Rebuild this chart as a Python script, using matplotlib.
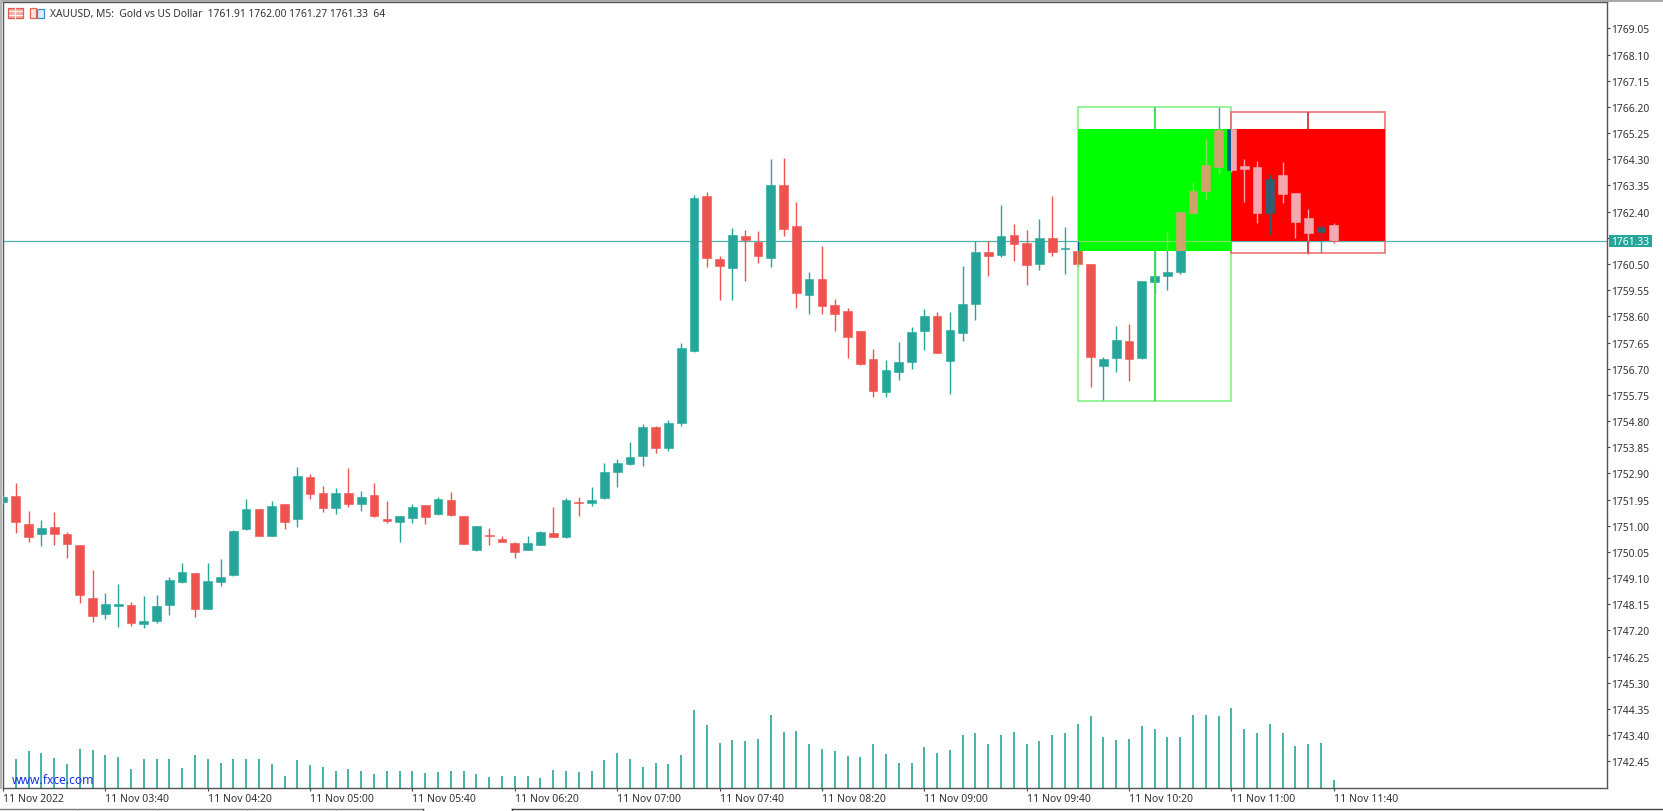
#!/usr/bin/env python3
"""XAUUSD M5 chart with supply/demand boxes, MetaTrader look."""

import matplotlib
matplotlib.use('Agg')

import numpy as np
import matplotlib.pyplot as plt
from matplotlib.patches import Rectangle

W, H = 1663, 812

plt.rcParams["font.family"] = ["Noto Sans", "DejaVu Sans"]

# one row per 5 minute bar, first bar 03:00
opens = [1751.85, 1752.09, 1751.05, 1750.71, 1750.94, 1750.70, 1750.29, 1748.38, 1747.78, 1748.07,
         1748.12, 1747.44, 1747.55, 1748.13, 1748.94, 1749.27, 1747.99, 1748.97, 1749.21, 1750.88,
         1751.61, 1750.63, 1751.78, 1751.24, 1752.76, 1752.18, 1751.64, 1752.18, 1751.79, 1752.11,
         1751.26, 1751.15, 1751.29, 1751.75, 1751.41, 1751.92, 1751.34, 1750.13, 1750.67, 1750.52,
         1750.39, 1750.13, 1750.31, 1750.72, 1750.58, 1751.86, 1751.81, 1752.02, 1752.96, 1753.23,
         1753.53, 1754.58, 1753.82, 1754.73, 1757.33, 1762.96, 1760.68, 1760.36, 1761.51, 1761.31,
         1760.71, 1763.36, 1761.88, 1759.38, 1759.96, 1759.00, 1758.80, 1758.05, 1757.04, 1755.86,
         1756.58, 1756.93, 1758.08, 1758.60, 1756.99, 1758.01, 1759.03, 1760.93, 1760.84, 1761.56,
         1761.27, 1760.50, 1761.45, 1761.06, 1760.98, 1760.49, 1756.81, 1757.10, 1757.70, 1757.10,
         1759.86, 1760.06, 1760.20, 1762.35, 1763.15, 1764.02, 1765.40, 1764.06, 1764.02, 1762.35,
         1763.72, 1763.06, 1762.17, 1761.67, 1761.91]
highs = [1752.10, 1752.54, 1751.52, 1751.22, 1751.49, 1750.78, 1750.29, 1749.39, 1748.56, 1748.87,
         1748.22, 1748.46, 1748.50, 1749.15, 1749.65, 1749.27, 1749.63, 1749.79, 1750.84, 1751.97,
         1751.62, 1751.90, 1751.79, 1753.14, 1752.88, 1752.43, 1752.38, 1753.08, 1752.26, 1752.55,
         1751.90, 1751.37, 1751.80, 1751.75, 1752.03, 1752.21, 1751.34, 1750.99, 1750.90, 1750.64,
         1750.42, 1750.62, 1750.79, 1751.69, 1752.00, 1752.03, 1752.41, 1753.26, 1753.41, 1754.04,
         1754.69, 1754.63, 1754.85, 1757.62, 1763.01, 1763.13, 1760.78, 1761.80, 1761.74, 1761.69,
         1764.31, 1764.35, 1762.74, 1760.22, 1761.14, 1759.23, 1758.89, 1758.06, 1757.41, 1757.01,
         1757.67, 1758.22, 1758.85, 1758.74, 1758.75, 1760.43, 1761.35, 1761.35, 1762.63, 1761.94,
         1761.75, 1762.12, 1762.96, 1761.85, 1761.35, 1760.50, 1757.11, 1758.26, 1758.32, 1759.89,
         1760.95, 1761.65, 1762.40, 1763.46, 1765.04, 1766.19, 1765.40, 1764.31, 1764.23, 1763.77,
         1764.19, 1763.06, 1762.50, 1761.95, 1762.00]
lows = [1751.80, 1750.74, 1750.42, 1750.25, 1750.30, 1749.83, 1748.19, 1747.52, 1747.61, 1747.32,
        1747.37, 1747.29, 1747.48, 1747.77, 1748.93, 1747.70, 1747.98, 1748.80, 1749.19, 1750.86,
        1750.62, 1750.62, 1750.88, 1750.97, 1751.97, 1751.51, 1751.41, 1751.69, 1751.53, 1751.33,
        1751.10, 1750.42, 1751.11, 1751.05, 1751.39, 1751.34, 1750.33, 1750.09, 1750.31, 1750.40,
        1749.82, 1750.11, 1750.30, 1750.59, 1750.57, 1751.35, 1751.70, 1751.97, 1752.42, 1753.22,
        1753.16, 1753.63, 1753.71, 1754.61, 1757.30, 1760.38, 1759.21, 1759.21, 1759.90, 1760.54,
        1760.38, 1761.53, 1758.89, 1758.70, 1758.69, 1758.06, 1757.09, 1756.85, 1755.69, 1755.66,
        1756.29, 1756.69, 1757.39, 1757.26, 1755.78, 1757.72, 1758.46, 1760.06, 1760.77, 1760.61,
        1759.74, 1760.30, 1760.78, 1760.14, 1760.38, 1756.05, 1755.51, 1756.57, 1756.26, 1757.05,
        1759.41, 1759.57, 1760.14, 1762.33, 1762.86, 1763.77, 1763.85, 1762.76, 1762.00, 1761.59,
        1762.70, 1761.43, 1760.86, 1760.89, 1761.27]
closes = [1752.05, 1751.12, 1750.60, 1750.90, 1750.71, 1750.34, 1748.48, 1747.72, 1748.15, 1748.17,
          1747.47, 1747.54, 1748.09, 1749.04, 1749.31, 1747.99, 1748.98, 1749.13, 1750.82, 1751.59,
          1750.63, 1751.70, 1751.12, 1752.82, 1752.16, 1751.64, 1752.18, 1751.79, 1752.05, 1751.35,
          1751.18, 1751.36, 1751.68, 1751.33, 1751.97, 1751.38, 1750.34, 1750.99, 1750.64, 1750.42,
          1750.05, 1750.37, 1750.78, 1750.60, 1751.92, 1751.82, 1751.95, 1752.94, 1753.29, 1753.48,
          1754.58, 1753.82, 1754.73, 1757.44, 1762.90, 1760.71, 1760.41, 1761.56, 1761.37, 1760.78,
          1763.36, 1761.77, 1759.43, 1759.96, 1758.99, 1758.70, 1757.85, 1756.87, 1755.88, 1756.64,
          1756.93, 1758.02, 1758.60, 1757.27, 1758.11, 1759.06, 1760.93, 1760.79, 1761.51, 1761.23,
          1760.47, 1761.45, 1760.93, 1761.08, 1760.50, 1757.11, 1757.05, 1757.75, 1757.04, 1759.87,
          1760.08, 1760.22, 1762.40, 1763.14, 1764.08, 1765.38, 1763.91, 1763.95, 1762.35, 1763.58,
          1763.05, 1762.04, 1761.62, 1761.84, 1761.33]
volumes = [200, 227, 293, 277, 237, 187, 312, 301, 264, 243, 149, 229, 227, 229, 155, 264, 229, 195, 227, 227,
           229, 187, 91, 219, 181, 163, 131, 149, 131, 112, 131, 131, 136, 117, 123, 131, 136, 112, 85, 91,
           91, 91, 80, 144, 136, 123, 131, 219, 275, 229, 165, 200, 187, 259, 624, 501, 360, 379, 373, 389,
           579, 443, 451, 347, 309, 291, 251, 245, 347, 269, 195, 200, 328, 277, 304, 419, 437, 347, 419, 443,
           347, 373, 424, 437, 507, 571, 405, 379, 392, 493, 469, 405, 405, 584, 584, 576, 635, 469, 437, 507,
           437, 333, 347, 355, 64]

price_ticks = [1769.05, 1768.10, 1767.15, 1766.20, 1765.25, 1764.30, 1763.35, 1762.40, 1761.45, 1760.50,
               1759.55, 1758.60, 1757.65, 1756.70, 1755.75, 1754.80, 1753.85, 1752.90, 1751.95, 1751.00,
               1750.05, 1749.10, 1748.15, 1747.20, 1746.25, 1745.30, 1744.35, 1743.40, 1742.45]
time_tick_bars = [0, 8, 16, 24, 32, 40, 48, 56, 64, 72, 80, 88, 96, 104]
time_labels = ["11 Nov 2022", "11 Nov 03:40", "11 Nov 04:20", "11 Nov 05:00", "11 Nov 05:40", "11 Nov 06:20",
               "11 Nov 07:00", "11 Nov 07:40", "11 Nov 08:20", "11 Nov 09:00", "11 Nov 09:40", "11 Nov 10:20",
               "11 Nov 11:00", "11 Nov 11:40"]

# zones, in bars and price
green_zone = (84, 96, 1760.98, 1765.40)
green_frame = (84, 90, 96, 1755.51, 1766.19)
red_zone = (96, 108, 1761.32, 1765.40)
red_frame = (96, 102, 108, 1760.89, 1766.00)

TEAL = "#26a69a"
RED = "#ef5350"
BODY_W = 0.68
LAST = closes[-1]

idx = np.arange(len(opens))
o, h, l, c = map(np.array, (opens, highs, lows, closes))
up = c >= o


def draw_candles(ax, up_color, down_color, z, clip=None, up_wick=None, down_wick=None):
    wick_up = up_wick or up_color
    wick_down = down_wick or down_color
    for mask, col, wick in ((up, up_color, wick_up), (~up, down_color, wick_down)):
        lines = ax.vlines(idx[mask], l[mask], h[mask], color=wick, lw=1.0, zorder=z)
        bars = ax.bar(idx[mask], np.abs(c - o)[mask], bottom=np.minimum(o, c)[mask], width=BODY_W,
                      color=col, edgecolor=col, lw=0.4, zorder=z + 0.1)
        if clip is not None:
            lines.set_clip_path(clip)
            for b in bars:
                b.set_clip_path(clip)


def draw_frame(ax, frame, col, mid_col, z=7):
    x0, xm, x1, y0, y1 = frame
    ax.add_patch(Rectangle((x0, y0), x1 - x0, y1 - y0, fill=False, ec=col, lw=1.1, zorder=z))
    ax.vlines(xm, y0, y1, color=mid_col, lw=1.4, zorder=z)


fig = plt.figure(figsize=(W / 100, H / 100), dpi=100)
fig.patch.set_facecolor("white")
ax = fig.add_axes([3 / W, 1 - 788.7 / H, 1603.7 / W, 785.7 / H])
ax.set_xlim(0.04, 125.33)
ax.set_ylim(1741.49, 1770.01)

# volume sits on its own scale under the candles
vax = ax.twinx()
vax.set_ylim(0, 6286)
vax.axis("off")
vax.vlines(idx, 0, volumes, color=TEAL, lw=1.2)
ax.set_zorder(vax.get_zorder() + 1)
ax.patch.set_visible(False)

draw_candles(ax, TEAL, RED, 3)
ax.axhline(LAST, color="#4fb5ab", lw=0.9, zorder=2)

# zones cover the candles, then candles come back tinted
g_x0, g_x1, g_y0, g_y1 = green_zone
r_x0, r_x1, r_y0, r_y1 = red_zone
draw_frame(ax, green_frame, "#7cf07c", "#45dc5c")
draw_frame(ax, red_frame, "#f06468", "#d94448")
ax.add_patch(Rectangle((g_x0, g_y0), g_x1 - g_x0, g_y1 - g_y0, fc="#00ff00", ec="none", zorder=7.5))
ax.add_patch(Rectangle((r_x0, r_y0), r_x1 - r_x0, r_y1 - r_y0, fc="#ff0000", ec="none", zorder=7.5))

g_clip = Rectangle((g_x0, g_y0), g_x1 - g_x0, g_y1 - g_y0, transform=ax.transData)
r_clip = Rectangle((r_x0, r_y0), r_x1 - r_x0, r_y1 - r_y0, transform=ax.transData)
draw_candles(ax, "#cfa46a", "#0c5c8e", 8, clip=g_clip, up_wick="#8fd85c", down_wick="#0c5c8e")
draw_candles(ax, "#2f5f70", "#f3a8b0", 8, clip=r_clip)
price_on_green = ax.axhline(LAST, color="#7fdc6a", lw=0.9, zorder=7.8)
price_on_green.set_clip_path(g_clip)

# right half of the bar at the box corner shows brown
ax.bar(idx[84], abs(c[84] - o[84]), bottom=min(o[84], c[84]), width=BODY_W / 2, align="edge",
       color="#bd7048", zorder=8)

ax.set_xticks(idx[time_tick_bars])
ax.set_xticklabels(time_labels, ha="left", fontsize=7.5, color="#333333")
ax.set_yticks(price_ticks)
ax.set_yticklabels([f"{p:.2f}" for p in price_ticks], fontsize=7.4, color="#333333")
ax.yaxis.tick_right()
ax.tick_params(axis="both", direction="out", length=2.4, width=0.8, color="#444444", pad=0.8)
ax.tick_params(axis="x", pad=1.6)
for name, sp in ax.spines.items():
    sp.set_color("#555555")
    sp.set_linewidth(1.0)

# window chrome on top, drawn in pixels
chrome = fig.add_axes([0, 0, 1, 1], zorder=10)
chrome.set_xlim(0, W)
chrome.set_ylim(H, 0)
chrome.axis("off")
chrome.patch.set_visible(False)

chrome.add_patch(Rectangle((0, 0), W, 2.5, fc="#a8a8a8", ec="none"))
chrome.add_patch(Rectangle((0, 0), 2, 790, fc="#b4b4b4", ec="none"))
chrome.plot([0, 423], [809.5, 809.5], color="#777777", lw=1.0)
chrome.plot([512, W], [809.5, 809.5], color="#444444", lw=1.0)
chrome.plot([423, 423], [809.5, 812], color="#555555", lw=1.0)
chrome.plot([512, 512], [809.5, 812], color="#444444", lw=1.0)
for xt in (77, 157, 247, 336):
    chrome.plot([xt, xt], [809.5, 812], color="#aaaaaa", lw=0.8)

# last price badge over the axis labels
last_y = H - ax.transData.transform((0, LAST))[1]
chrome.add_patch(Rectangle((1608.7, last_y - 6), 43, 12, fc=TEAL, ec="none"))
chrome.text(1611, last_y, f"{LAST:.2f}", fontsize=7.4, color="white", ha="left", va="center")

# header icons
chrome.add_patch(Rectangle((8, 8.5), 14.5, 10.5, fc="#f4a9a0", ec="#e0574c", lw=0.9))
for yy in (12, 15.5):
    chrome.plot([9, 22], [yy, yy], color="#f6f0ee", lw=0.9)
chrome.plot([15, 15], [9, 19], color="#f6f0ee", lw=0.9)
chrome.add_patch(Rectangle((29.5, 9), 6, 10, fc="#fbe4da", ec="#e8604c", lw=0.9))
chrome.add_patch(Rectangle((37, 10), 6.5, 9, fc="#dcecf8", ec="#3f8fd0", lw=0.9))

chrome.text(50, 14.5, "XAUUSD, M5:  Gold vs US Dollar  1761.91 1762.00 1761.27 1761.33  64",
            fontsize=7.4, color="#333333", ha="left", va="center")
chrome.text(11.5, 780.5, "www.fxce.com", fontsize=8.7, color="#1a33e6", ha="left", va="center")

fig.savefig("out.png", dpi=100, facecolor="white")
plt.close(fig)
